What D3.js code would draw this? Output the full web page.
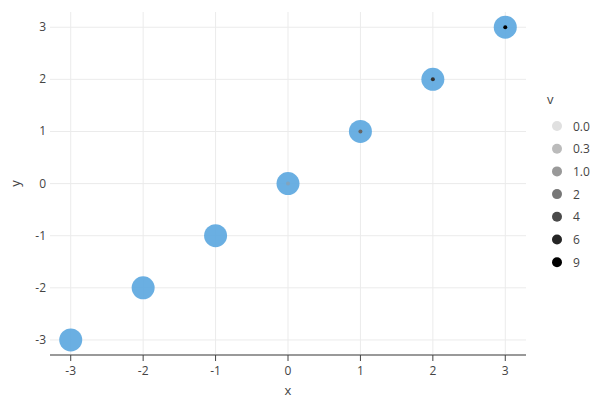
<!DOCTYPE html><html><head><meta charset="utf-8"><script src="https://cdn.jsdelivr.net/npm/d3@7"></script>
<style>body{margin:0;background:#fff}text{font-family:"Open Sans",sans-serif}</style></head><body><svg id="c" width="600" height="401"></svg>
<script>
const xs=[-3,-2,-1,0,1,2,3];
const ys=[-3,-2,-1,0,1,2,3];
const vs=[null,null,null,0,1,4,9];
const legendLabels=["0.0","0.3","1.0","2","4","6","9"];
const legendColors=["#e0e0e0","#bbbbbb","#999999","#777777","#4a4a4a","#252525","#000000"];
const ticks=[-3,-2,-1,0,1,2,3];
const svg=d3.select("#c");
const L=50,R=526,T=12,B=355;
const x=d3.scaleLinear().domain([-3.3,3.3]).range([49,527]);
const y=d3.scaleLinear().domain([-3.3,3.3]).range([355.6,11.6]);
const col=d3.scaleSequential(t=>d3.interpolateRgb("#999","#000")(t)).domain([0,3]);
const g=svg.append("g");
g.selectAll(".vg").data(ticks).join("line").attr("x1",d=>x(d)).attr("x2",d=>x(d)).attr("y1",T).attr("y2",B).attr("stroke","#ebebeb");
g.selectAll(".hg").data(ticks).join("line").attr("y1",d=>y(d)).attr("y2",d=>y(d)).attr("x1",L).attr("x2",R).attr("stroke","#ebebeb");
svg.append("line").attr("x1",L).attr("x2",R).attr("y1",B).attr("y2",B).attr("stroke","#999").attr("stroke-width",2);
svg.selectAll(".xt").data(ticks).join("line").attr("x1",d=>x(d)).attr("x2",d=>x(d)).attr("y1",B).attr("y2",B+6).attr("stroke","#444");
svg.selectAll(".xl").data(ticks).join("text").attr("x",d=>x(d)).attr("y",B+20).attr("text-anchor","middle").attr("font-size",12).attr("fill","#444").text(d=>d);
svg.selectAll(".yl").data(ticks).join("text").attr("x",L-4).attr("y",d=>y(d)+4).attr("text-anchor","end").attr("font-size",12).attr("fill","#444").text(d=>d);
svg.append("text").attr("x",288).attr("y",395).attr("text-anchor","middle").attr("font-size",13).attr("fill","#444").text("x");
svg.append("text").attr("transform",`translate(20,${(T+B)/2}) rotate(-90)`).attr("text-anchor","middle").attr("font-size",13).attr("fill","#444").text("y");
const pts=xs.map((d,i)=>({x:d,y:ys[i],v:vs[i]}));
svg.selectAll(".p").data(pts).join("circle").attr("cx",d=>x(d.x)).attr("cy",d=>y(d.y)).attr("r",11.5).attr("fill","#5da8e0").attr("fill-opacity",0.92);
svg.selectAll(".q").data(pts.filter(d=>d.v!==null)).join("circle").attr("cx",d=>x(d.x)).attr("cy",d=>y(d.y)).attr("r",2).attr("fill",d=>col(Math.sqrt(d.v))).attr("fill-opacity",d=>d.v===0?0.5:1);
svg.append("text").attr("x",547).attr("y",104).attr("font-size",13).attr("fill","#444").text("v");
const lg=svg.selectAll(".lg").data(legendLabels).join("g").attr("transform",(d,i)=>`translate(0,${126+i*22.7})`);
lg.append("circle").attr("cx",557).attr("cy",0).attr("r",5).attr("fill",(d,i)=>legendColors[i]);
lg.append("text").attr("x",573).attr("y",4.5).attr("font-size",12).attr("fill","#444").text(d=>d);
</script></body></html>
